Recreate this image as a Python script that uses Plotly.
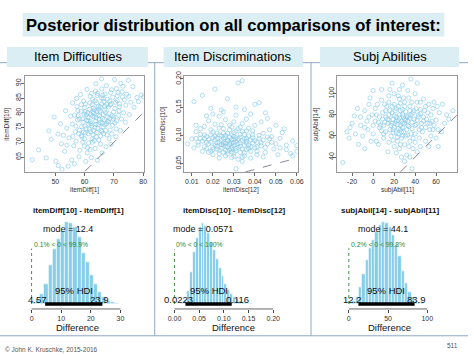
import plotly.graph_objects as go

W, H = 474, 355

# ---------------- data ----------------
diff_pts = [(58.2,74.1),(59.5,76.8),(60.3,73.2),(61.1,78.4),(62.4,75.6),(63.0,79.9),(63.8,77.2),(64.5,74.8),(65.2,80.6),(66.1,78.1),
 (66.9,82.3),(67.5,76.4),(68.3,79.7),(69.1,83.1),(69.8,77.9),(61.7,81.2),(60.6,79.3),(59.1,71.8),(57.6,77.6),(62.9,72.5),
 (64.1,83.4),(65.7,85.1),(67.8,84.6),(70.4,81.5),(71.2,85.8),(72.0,83.0),(68.7,74.2),(66.5,72.9),(63.3,70.6),(61.4,69.8),
 (58.8,80.5),(56.9,73.6),(55.8,76.2),(57.1,70.4),(59.9,68.7),(62.0,77.0),(64.8,76.0),(66.3,75.3),(67.1,80.1),(68.9,86.9),
 (70.9,88.2),(72.8,87.1),(73.6,84.4),(71.6,79.2),(69.5,75.8),(65.4,69.4),(63.6,67.9),(60.9,66.4),(58.4,67.3),(56.3,68.8),
 (54.7,71.5),(53.9,74.8),(55.2,78.9),(57.4,82.1),(59.7,84.0),(61.9,85.6),(63.7,87.4),(65.9,88.1),(67.4,89.2),(62.6,82.8),
 (60.1,75.5),(61.3,72.9),(64.2,73.3),(66.7,77.7),(68.1,81.9),(69.9,80.3),(70.3,76.6),(71.9,82.1),(73.3,80.0),(74.4,86.3),
 (75.8,83.6),(76.5,88.9),(77.9,85.2),(79.3,86.1),(80.1,85.4),(74.9,91.0),(70.2,91.3),(72.4,90.0),(75.3,79.4),(73.9,76.8),
 (72.2,74.0),(70.7,71.9),(68.4,71.2),(66.0,66.4),(64.4,63.9),(62.3,64.8),(60.4,63.5),(58.1,65.1),(55.6,64.0),(53.2,66.9),
 (52.1,69.5),(51.0,62.1),(52.3,60.8),(50.2,63.6),(48.6,71.0),(47.8,73.9),(46.9,64.7),(44.3,67.4),(42.1,64.1),(49.6,78.6),
 (51.8,76.3),(50.9,72.8),(53.5,80.7),(55.9,83.4),(58.6,86.2),(60.8,88.0),(54.4,61.9),(56.5,62.7),(57.8,79.0),(59.3,78.0),
 (60.0,81.8),(62.1,79.5),(63.5,75.0),(65.0,77.8),(66.6,83.8),(67.9,78.6),(69.3,72.8),(71.0,77.3),(61.6,74.5),(62.8,84.7),
 (64.9,81.3),(66.2,86.0),(68.6,84.0),(57.0,75.5),(58.9,72.3),(60.7,77.4),(63.2,78.6),(64.6,79.2),(65.5,72.1),(67.2,74.0),
 (69.6,85.3),(71.4,86.9),(73.1,89.0),(74.1,82.6),(75.1,85.6),(76.9,81.9),(78.4,83.8),(59.4,70.1),(61.0,68.2),(62.7,70.0),
 (56.0,72.0),(54.0,69.0),(57.3,84.9),(52.8,72.4),(65.8,91.5),(63.9,89.9),(67.3,68.5),(69.0,69.3),(70.8,74.5),(72.6,77.9),
 (62.2,76.3),(63.4,81.0),(64.0,78.3),(65.3,76.7),(66.4,79.4),(61.5,76.1),(60.2,80.4),(64.3,85.9),(68.0,77.1),(65.6,74.0),
 (61.2,77.3),(62.7,78.9),(63.9,76.1),(65.1,79.0),(66.8,80.9),(67.6,82.8),(64.7,82.2),(63.1,74.0),(62.0,73.6),(60.5,74.6),
 (59.0,75.3),(58.3,77.9),(59.8,79.6),(61.8,83.4),(63.6,84.1),(65.8,83.0),(67.0,86.4),(68.8,82.7),(69.4,79.0),(70.6,83.6),
 (68.2,76.9),(66.9,75.9),(65.9,73.7),(64.0,71.8),(62.5,71.1),(60.0,71.2),(58.0,73.0),(57.7,80.8),(60.3,83.0),(62.3,86.6),
 (64.4,86.6),(66.4,84.8),(69.2,87.8),(71.1,84.1),(72.9,85.4),(71.8,80.6),(70.0,78.6),(68.6,78.1),(67.7,72.5),(64.9,70.8),
 (61.9,67.6),(59.6,73.4),(56.6,79.2),(58.9,82.8),(63.0,81.6),(65.4,82.0),(66.0,76.5),(62.9,80.4),(61.1,79.9),(64.3,80.6)]

disc_pts = [(0.018,0.085),(0.021,0.092),(0.024,0.078),(0.026,0.096),(0.028,0.088),(0.030,0.082),(0.032,0.094),(0.034,0.076),
 (0.036,0.090),(0.022,0.104),(0.025,0.112),(0.029,0.101),(0.031,0.108),(0.033,0.115),(0.027,0.072),(0.023,0.068),(0.020,0.075),
 (0.017,0.098),(0.015,0.090),(0.019,0.110),(0.016,0.080),(0.014,0.102),(0.013,0.088),(0.012,0.095),(0.011,0.078),(0.035,0.102),
 (0.037,0.083),(0.039,0.096),(0.041,0.088),(0.038,0.072),(0.040,0.078),(0.042,0.100),(0.044,0.092),(0.043,0.082),(0.045,0.070),
 (0.046,0.085),(0.048,0.098),(0.050,0.085),(0.052,0.095),(0.053,0.105),(0.055,0.075),(0.058,0.090),(0.060,0.082),(0.060,0.072),
 (0.057,0.068),(0.047,0.110),(0.049,0.076),(0.051,0.066),(0.044,0.062),(0.041,0.066),(0.038,0.060),(0.035,0.064),(0.032,0.058),
 (0.029,0.061),(0.026,0.064),(0.023,0.060),(0.020,0.066),(0.018,0.070),(0.031,0.041),(0.034,0.054),(0.030,0.069),(0.027,0.080),
 (0.025,0.087),(0.024,0.099),(0.022,0.081),(0.028,0.118),(0.030,0.124),(0.026,0.128),(0.034,0.121),(0.037,0.113),(0.039,0.108),
 (0.036,0.129),(0.040,0.118),(0.043,0.124),(0.021,0.120),(0.018,0.126),(0.023,0.134),(0.016,0.116),(0.014,0.112),(0.012,0.107),
 (0.010,0.094),(0.008,0.085),(0.020,0.138),(0.025,0.142),(0.031,0.136),(0.035,0.146),(0.038,0.138),(0.042,0.158),(0.040,0.155),
 (0.019,0.148),(0.024,0.145),(0.031,0.150),(0.027,0.165),(0.015,0.171),(0.011,0.160),(0.021,0.182),(0.032,0.193),(0.034,0.197),
 (0.046,0.130),(0.050,0.118),(0.054,0.112),(0.033,0.087),(0.029,0.093),(0.027,0.104),(0.032,0.079),(0.026,0.074),(0.022,0.095),
 (0.019,0.088),(0.017,0.077),(0.035,0.083),(0.037,0.099),(0.030,0.098),(0.024,0.091),(0.021,0.083),(0.028,0.084),(0.033,0.070),
 (0.036,0.075),(0.039,0.087),(0.025,0.070),(0.029,0.076),(0.031,0.089),(0.023,0.113),(0.019,0.101),(0.016,0.094),(0.044,0.104),
 (0.047,0.094),(0.041,0.080),(0.038,0.092),(0.034,0.107),(0.028,0.110),(0.013,0.083),(0.015,0.072),(0.012,0.118),(0.017,0.135),
 (0.045,0.140),(0.055,0.083),(0.058,0.064),(0.052,0.078),(0.027,0.092),(0.030,0.087),(0.025,0.083),(0.033,0.097),(0.023,0.088),
 (0.029,0.071),(0.036,0.095),(0.031,0.077),(0.020,0.096),(0.026,0.100),
 (0.024,0.084),(0.027,0.090),(0.030,0.093),(0.032,0.085),(0.034,0.091),(0.026,0.081),(0.022,0.087),(0.020,0.079),(0.018,0.093),
 (0.029,0.079),(0.031,0.073),(0.035,0.069),(0.033,0.102),(0.028,0.097),(0.025,0.104),(0.021,0.099),(0.019,0.072),(0.023,0.074),
 (0.027,0.067),(0.030,0.063),(0.036,0.086),(0.038,0.080),(0.040,0.091),(0.042,0.095),(0.039,0.101),(0.036,0.108),(0.032,0.112),
 (0.029,0.115),(0.024,0.119),(0.020,0.106),(0.017,0.088),(0.016,0.101),(0.014,0.095),(0.026,0.086),(0.031,0.096),(0.033,0.081),
 (0.037,0.077),(0.043,0.087),(0.045,0.079),(0.046,0.097),(0.048,0.088),(0.041,0.072),(0.034,0.062),(0.022,0.076),(0.028,0.075),
 (0.030,0.105),(0.035,0.094),(0.025,0.095),(0.023,0.101),(0.029,0.086)]

abil_pts = [(10,70),(15,75),(20,68),(25,80),(30,72),(35,77),(22,63),(28,85),(18,82),(12,78),(8,65),(5,73),(32,66),(38,82),
 (40,70),(42,75),(45,85),(48,78),(50,68),(27,74),(23,71),(17,60),(13,88),(20,90),(30,92),(25,95),(35,88),(40,62),(44,58),
 (47,64),(52,72),(55,80),(58,70),(60,75),(62,66),(57,86),(53,90),(48,95),(40,100),(33,103),(25,104),(15,98),(8,94),(0,103),
 (-4,90),(-8,84),(-12,78),(-15,86),(-18,79),(-20,72),(-22,68),(-17,62),(-10,60),(-5,66),(0,62),(3,55),(-2,55),(5,52),(10,58),
 (15,54),(20,50),(25,48),(30,52),(35,55),(38,48),(42,45),(32,42),(27,40),(22,44),(37,29),(30,36),(45,50),(50,55),(55,60),
 (60,58),(65,64),(68,72),(70,80),(76,84),(72,76),(63,82),(58,92),(42,110),(36,114),(28,108),(18,110),(-29,35),(-25,64),
 (-23,58),(-14,52),(-8,48),(-12,70),(-6,74),(-1,80),(2,86),(6,78),(9,82),(11,90),(14,72),(16,66),(19,76),(21,84),(24,62),
 (26,66),(29,78),(31,83),(33,74),(34,69),(36,62),(39,76),(41,86),(43,80),(46,72),(49,84),(51,76),(54,66),(56,74),(24,88),
 (22,78),(18,72),(27,58),(31,60),(12,64),(7,70),(2,74),(4,90),(29,96),(37,92),(45,92),(61,88),(66,90),(20,100),(26,70),
 (32,78),(28,68),(16,84),(23,55),(-3,96),(8,104),(44,66),(53,50),(62,50),(35,40),(14,45),(24,75),(28,80),(21,72),(33,70),
 (26,84),(19,66),(30,76),(36,80),(15,80),(27,64),
 (22,74),(25,77),(28,72),(31,75),(34,79),(37,73),(20,79),(17,70),(14,76),(11,73),(24,67),(29,64),(33,61),(37,67),(41,71),
 (43,78),(39,84),(35,84),(30,88),(26,91),(22,86),(18,88),(15,92),(12,84),(9,76),(6,68),(10,62),(19,63),(23,59),(28,60),
 (38,58),(46,68),(48,74),(45,81),(52,82),(50,88),(42,92),(34,96),(24,98),(16,104),(3,80),(0,70),(-4,78),(-8,68),(19,56),
 (26,52),(34,50),(40,54),(57,66),(54,72)]

h1_centers = [0.7,2.1,3.5,4.9,6.3,7.7,9.1,10.5,11.9,13.3,14.7,16.1,17.5,18.9,20.3,21.7,23.1,24.5,25.9,27.3,28.7]
h1_heights = [2,6,12,25,48,67,80,90,100,99,94,82,62,51,36,24,15,8,4,2,1]
h2_centers = [0.0168,0.0226,0.0284,0.0342,0.0400,0.0458,0.0516,0.0574,0.0632,0.0690,0.0748,0.0806,0.0864,
              0.0922,0.0980,0.1038,0.1096,0.1154,0.1212,0.1270,0.1328,0.1386,0.1444,0.1502,0.1560,0.1618]
h2_heights = [1,5,16,40,65,82,95,100,97,88,77,67,56,45,35,25,17,12,8,6,4,3,2,1.5,1,0.5]
h3_centers = [2,6.2,10.4,14.6,18.8,23,27.2,31.4,35.6,39.8,44,48.2,52.4,56.6,60.8,65,69.2,73.4,77.6,81.8,86,90.2,94.4]
h3_heights = [1,4,8,20,36,54,68,78,88,96,100,98,94,84,72,58,40,26,14,8,4,2,1]

scatter_xlabels = ["itemDiff[1]", "itemDisc[12]", "subjAbil[11]"]
scatter_ylabels = ["itemDiff[10]", "itemDisc[10]", "subjAbil[14]"]
hist_titles = ["itemDiff[10] - itemDiff[1]", "itemDisc[10] - itemDisc[12]", "subjAbil[14] - subjAbil[11]"]
modes = ["12.4", "0.0571", "44.1"]
mode_vals = [12.4, 0.0571, 44.1]
hdi_low = [4.57, 0.0223, 12.2]
hdi_high = [23.9, 0.116, 83.9]
hdi_low_txt = ["4.57", "0.0223", "12.2"]
hdi_high_txt = ["23.9", "0.116", "83.9"]
comp_txt = ["0.1% < 0 < 99.9%", "0% < 0 < 100%", "0.2% < 0 < 99.8%"]
panel_titles = ["Item Difficulties", "Item Discriminations", "Subj Abilities"]

s1_xticks = [50, 60, 70, 80]; s1_yticks = [65, 70, 75, 80, 85, 90]
s2_xticks = [0.01, 0.02, 0.03, 0.04, 0.05, 0.06]; s2_yticks = [0.05, 0.10, 0.15, 0.20]
s3_xticks = [-20, 0, 20, 40, 60]; s3_yticks = [40, 60, 80, 100]
h1_ticks = [0, 10, 20, 30]
h2_ticks = [0.00, 0.05, 0.10, 0.15, 0.20]
h3_ticks = [0, 50, 100]

# ---------------- helpers ----------------
def fx(px): return px / W
def fy(py): return 1 - py / H
def lin(a, b, v0, p0, v1, p1):
    s = (v1 - v0) / (p1 - p0)
    return [v0 + (a - p0) * s, v0 + (b - p0) * s]

FONT = "Liberation Sans, Arial, sans-serif"
SKY = "#87CEEB"
fig = go.Figure()
layout = dict(width=W, height=H, margin=dict(l=0, r=0, t=0, b=0), paper_bgcolor="white",
              plot_bgcolor="rgba(0,0,0,0)", showlegend=False, font=dict(family=FONT, color="#222"))
shapes, annos = [], []

def txt(text, x, y, size, color="#111", xref="paper", xanchor="center", angle=0):
    annos.append(dict(text=text, xref=xref, yref="paper", x=x, y=y, xanchor=xanchor, yanchor="middle",
                      showarrow=False, textangle=angle, font=dict(size=size, color=color, family=FONT)))

# ---------- slide decoration ----------
LINEC = "#8EA8C3"
BOXC = "#DAEEF3"
shapes.append(dict(type="line", xref="paper", yref="paper", x0=0, x1=1, y0=fy(58.5), y1=fy(58.5), line=dict(color=LINEC, width=1)))
for xv in (156.7, 315):
    shapes.append(dict(type="line", xref="paper", yref="paper", x0=fx(xv), x1=fx(xv), y0=fy(58.5), y1=fy(335.5), line=dict(color=LINEC, width=1)))
shapes.append(dict(type="line", xref="paper", yref="paper", x0=0, x1=1, y0=fy(335.5), y1=fy(335.5), line=dict(color=LINEC, width=1)))
shapes.append(dict(type="rect", xref="paper", yref="paper", x0=fx(23), x1=fx(450), y0=fy(32), y1=fy(8), fillcolor=BOXC, line=dict(width=0)))
txt("<b>Posterior distribution on all comparisons of interest:</b>", fx(236.5), fy(20.5), 16.6, "black")
hdr_boxes = [(7, 150), (165.7, 306.7), (324, 465)]
for (a, b), t in zip(hdr_boxes, panel_titles):
    shapes.append(dict(type="rect", xref="paper", yref="paper", x0=fx(a), x1=fx(b), y0=fy(63), y1=fy(42.7), fillcolor=BOXC, line=dict(width=0)))
    txt(t, fx((a + b) / 2), fy(52.5), 13, "black")
txt("© John K. Kruschke, 2015-2016", fx(3), fy(349), 6.5, "#555", xanchor="left")
txt("511", fx(466), fy(345), 6.5, "#555", xanchor="right")

# ---------- scatter panels ----------
scat = [
    dict(pts=diff_pts, xd=(25, 146), yd=(72, 169), xm=(50, 56, 80, 145), ym=(90, 79.5, 65, 154.2),
         xt=s1_xticks, yt=s1_yticks, xfmt=None, ylabx=7.5),
    dict(pts=disc_pts, xd=(186.7, 301.7), yd=(72.3, 169.3), xm=(0.01, 194.3, 0.06, 300.7), ym=(0.20, 75, 0.05, 161),
         xt=s2_xticks, yt=s2_yticks, xfmt="%.2f", ylabx=165),
    dict(pts=abil_pts, xd=(341.7, 462.7), yd=(72.3, 169.3), xm=(-20, 356.7, 60, 441.7), ym=(100, 90, 40, 154.3),
         xt=s3_xticks, yt=s3_yticks, xfmt=None, ylabx=320),
]
for i, s in enumerate(scat):
    n = i + 1
    xr = lin(s["xd"][0], s["xd"][1], s["xm"][0], s["xm"][1], s["xm"][2], s["xm"][3])
    yr = lin(s["yd"][1], s["yd"][0], s["ym"][0], s["ym"][1], s["ym"][2], s["ym"][3])
    xs = [p[0] for p in s["pts"]]; ys = [p[1] for p in s["pts"]]
    fig.add_trace(go.Scatter(x=xs, y=ys, mode="markers", xaxis=f"x{n}", yaxis=f"y{n}",
                             marker=dict(symbol="circle-open", size=4.2, color="rgba(120,195,232,0.7)", line=dict(width=0.8))))
    lo = max(xr[0], yr[0]); hi = min(xr[1], yr[1])
    fig.add_trace(go.Scatter(x=[lo, hi], y=[lo, hi], mode="lines", xaxis=f"x{n}", yaxis=f"y{n}",
                             line=dict(color="#6a6a7a", width=0.8, dash="dash")))
    if s["xfmt"]:
        xtt = ["%.2f" % v for v in s["xt"]]; ytt = ["%.2f" % v for v in s["yt"]]
    else:
        xtt = [str(v) for v in s["xt"]]; ytt = [str(v) for v in s["yt"]]
    layout[f"xaxis{n}"] = dict(domain=[fx(s["xd"][0]), fx(s["xd"][1])], range=xr, anchor=f"y{n}", showgrid=False,
                               zeroline=False, showline=True, mirror=True, linecolor="#999", linewidth=0.8,
                               ticks="outside", ticklen=3, tickcolor="#666", tickwidth=0.8,
                               tickvals=s["xt"], ticktext=xtt, tickfont=dict(size=7, color="#333", family=FONT))
    layout[f"yaxis{n}"] = dict(domain=[fy(s["yd"][1]), fy(s["yd"][0])], range=yr, anchor=f"x{n}", showgrid=False,
                               zeroline=False, showline=True, mirror=True, linecolor="#999", linewidth=0.8,
                               ticks="outside", ticklen=3, tickcolor="#666", tickwidth=0.8, tickangle=-90,
                               ticklabelstandoff=-3,
                               tickvals=s["yt"], ticktext=ytt, tickfont=dict(size=7, color="#333", family=FONT))
    txt(scatter_xlabels[i], fx((s["xd"][0] + s["xd"][1]) / 2), fy(188), 6.5, "#333")
    txt(scatter_ylabels[i], fx(s["ylabx"]), fy(121), 6.5, "#333", angle=-90)

# ---------- histogram panels ----------
hists = [
    dict(c=h1_centers, h=h1_heights, bw=1.4, xd=(25, 130), xm=(0, 32, 30, 122), peak=220.7, ticks=h1_ticks, fmt="%d",
         title_x=80, lowx=38.3, highx=100.5, diffx=78.3),
    dict(c=h2_centers, h=h2_heights, bw=0.0058, xd=(170, 285), xm=(0, 176.7, 0.2, 276.7), peak=221.7, ticks=h2_ticks, fmt="%.2f",
         title_x=237, lowx=180.5, highx=240.5, diffx=236.7),
    dict(c=h3_centers, h=h3_heights, bw=4.2, xd=(340, 455), xm=(0, 353.3, 100, 432.7), peak=220, ticks=h3_ticks, fmt="%d",
         title_x=396, lowx=357.5, highx=422, diffx=394),
]
for i, hd in enumerate(hists):
    n = i + 4
    xr = lin(hd["xd"][0], hd["xd"][1], hd["xm"][0], hd["xm"][1], hd["xm"][2], hd["xm"][3])
    ytop, ybot = 205.0, 308.3
    yr = lin(ybot, ytop, 0, 303.3, 100, hd["peak"])
    fig.add_trace(go.Bar(x=hd["c"], y=hd["h"], width=hd["bw"], xaxis=f"x{n}", yaxis=f"y{n}",
                         marker=dict(color=SKY, line=dict(color="white", width=0.6))))
    fig.add_trace(go.Scatter(x=[hdi_low[i], hdi_high[i]], y=[0, 0], mode="lines", xaxis=f"x{n}", yaxis=f"y{n}",
                             line=dict(color="black", width=3.5)))
    fig.add_trace(go.Scatter(x=[0, 0], y=[0, 68], mode="lines", xaxis=f"x{n}", yaxis=f"y{n}",
                             line=dict(color="#2f8a2f", width=0.9, dash="dot")))
    layout[f"xaxis{n}"] = dict(domain=[fx(hd["xd"][0]), fx(hd["xd"][1])], range=xr, anchor=f"y{n}", showgrid=False,
                               zeroline=False, showline=False, ticks="outside", ticklen=3, tickcolor="#444", tickwidth=0.8,
                               tickvals=hd["ticks"], ticktext=[hd["fmt"] % v for v in hd["ticks"]],
                               tickfont=dict(size=7, color="#333", family=FONT))
    layout[f"yaxis{n}"] = dict(domain=[fy(ybot), fy(ytop)], range=yr, anchor=f"x{n}", visible=False)
    shapes.append(dict(type="line", xref=f"x{n}", yref=f"y{n} domain", x0=hd["ticks"][0], x1=hd["ticks"][-1], y0=0, y1=0,
                       line=dict(color="#444", width=0.8)))
    xa = f"x{n}"
    txt(f"<b>{hist_titles[i]}</b>", fx(hd["title_x"]), fy(208.3), 8, "#111")
    txt(f"mode = {modes[i]}", mode_vals[i], fy(226.7), 9, "#111", xref=xa)
    txt(comp_txt[i], 0, fy(243.3), 6.8, "#2f8a2f", xref=xa, xanchor="left")
    txt("95% HDI", (hdi_low[i] + hdi_high[i]) / 2, fy(289.8), 9.5, "#111", xref=xa)
    txt(hdi_low_txt[i], fx(hd["lowx"]), fy(298.7), 9.5, "#111")
    txt(hdi_high_txt[i], fx(hd["highx"]), fy(298.7), 9.5, "#111")
    txt("Difference", fx(hd["diffx"]), fy(327), 9.5, "#111")

layout["shapes"] = shapes
layout["annotations"] = annos
layout["bargap"] = 0
fig.update_layout(**layout)
fig.write_html("out.html", config={"displayModeBar": False},
               post_script="document.body.style.margin='0px';document.body.style.overflow='hidden';")
